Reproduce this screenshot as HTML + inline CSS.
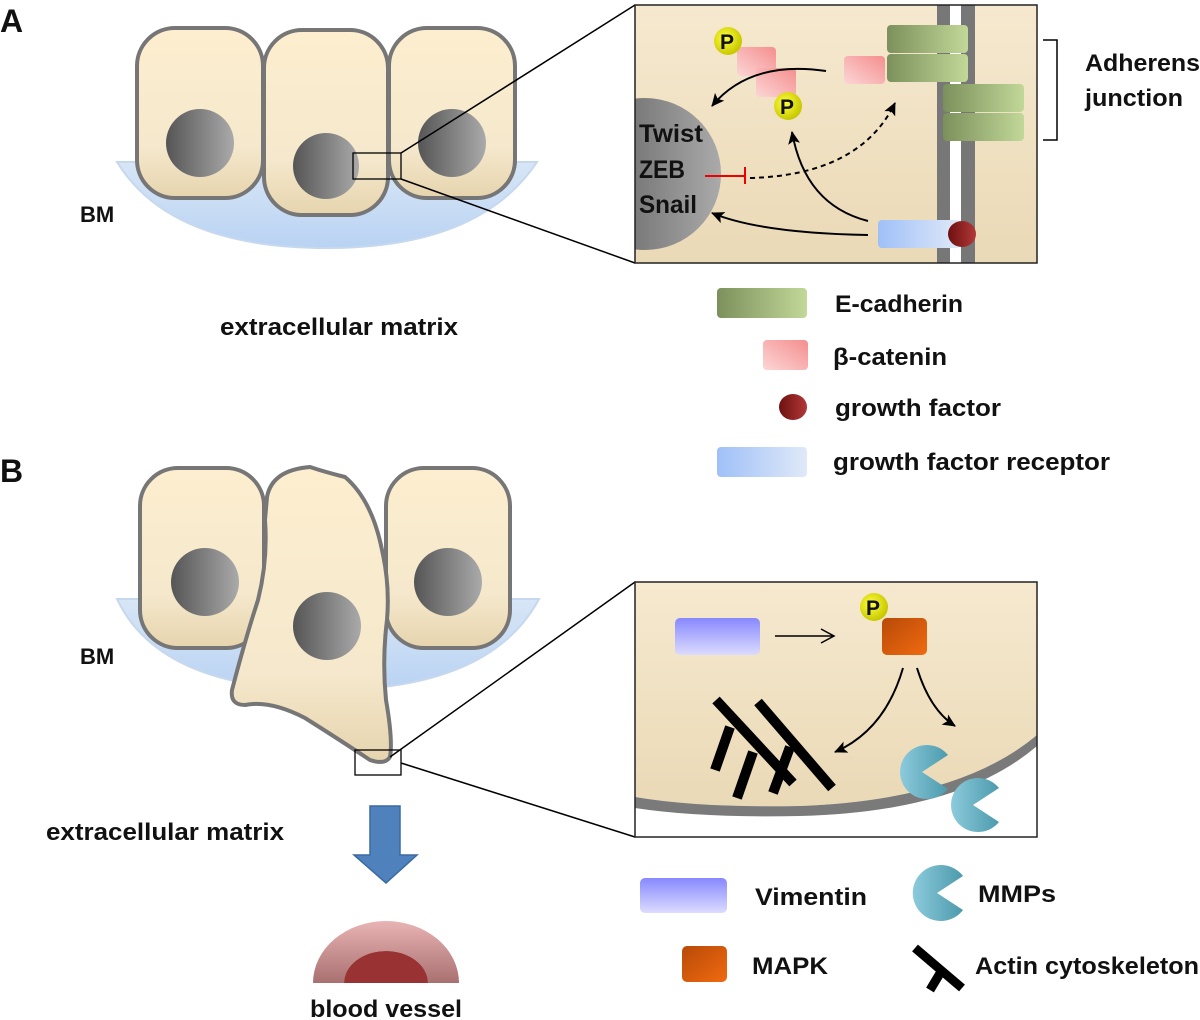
<!DOCTYPE html>
<html><head><meta charset="utf-8"><style>
html,body{margin:0;padding:0;background:#fff;}
svg{display:block;}
text{font-family:"Liberation Sans",sans-serif;font-weight:bold;fill:#111;}
</style></head><body>
<svg width="1200" height="1020" viewBox="0 0 1200 1020" xmlns="http://www.w3.org/2000/svg">
<defs>
<linearGradient id="cell" x1="0" y1="0" x2="0" y2="1"><stop offset="0" stop-color="#fdeecf"/><stop offset="0.7" stop-color="#f5e8cc"/><stop offset="1" stop-color="#e6d4ae"/></linearGradient>
<linearGradient id="nuc" x1="0" y1="0" x2="1" y2="0"><stop offset="0" stop-color="#555"/><stop offset="1" stop-color="#aaa"/></linearGradient>
<linearGradient id="bm" x1="0" y1="0" x2="0" y2="1"><stop offset="0" stop-color="#d8e6f6"/><stop offset="1" stop-color="#b9d3f3"/></linearGradient>
<linearGradient id="box" x1="0" y1="0" x2="0" y2="1"><stop offset="0" stop-color="#f6e9cf"/><stop offset="1" stop-color="#ead9b6"/></linearGradient>
<linearGradient id="grn" x1="0" y1="0" x2="1" y2="0"><stop offset="0" stop-color="#7c905c"/><stop offset="1" stop-color="#c2d898"/></linearGradient>
<linearGradient id="pnk" x1="1" y1="0" x2="0" y2="1"><stop offset="0" stop-color="#f58e8e"/><stop offset="1" stop-color="#fcd6d6"/></linearGradient>
<linearGradient id="rec" x1="0" y1="0" x2="1" y2="0"><stop offset="0" stop-color="#9fc0f8"/><stop offset="1" stop-color="#e0e9f8"/></linearGradient>
<linearGradient id="gf" x1="0" y1="0" x2="1" y2="0"><stop offset="0" stop-color="#6e1010"/><stop offset="1" stop-color="#b23838"/></linearGradient>
<linearGradient id="vim" x1="0" y1="0" x2="0" y2="1"><stop offset="0" stop-color="#8888ff"/><stop offset="1" stop-color="#dcdcff"/></linearGradient>
<linearGradient id="mapk" x1="0" y1="0" x2="1" y2="1"><stop offset="0" stop-color="#b84a08"/><stop offset="1" stop-color="#f06a10"/></linearGradient>
<linearGradient id="mmp" x1="0" y1="0" x2="1" y2="0"><stop offset="0" stop-color="#8ccbdc"/><stop offset="1" stop-color="#4c9aac"/></linearGradient>
<linearGradient id="ves" x1="0" y1="0" x2="0" y2="1"><stop offset="0" stop-color="#e9b4b4"/><stop offset="1" stop-color="#a97070"/></linearGradient>
<radialGradient id="py" cx="0.4" cy="0.4" r="0.6"><stop offset="0" stop-color="#ffff40"/><stop offset="1" stop-color="#c8c800"/></radialGradient>
<marker id="ah2" markerWidth="14" markerHeight="14" refX="12" refY="7" orient="auto" markerUnits="userSpaceOnUse"><path d="M0,1 L13,7 L0,13 L3,7 Z" fill="#000"/></marker>
<clipPath id="ca"><rect x="635" y="5" width="402" height="258"/></clipPath>
<clipPath id="cb"><rect x="635" y="582" width="402" height="255"/></clipPath>
</defs>

<!-- Panel A left -->
<text x="0" y="32" font-size="32">A</text>
<path d="M117,162 L537,162 Q480,248 327,248 Q170,248 117,162 Z" fill="url(#bm)" stroke="#c6d8ee" stroke-width="2"/>
<rect x="137" y="28" width="126" height="170" rx="38" fill="url(#cell)" stroke="#767676" stroke-width="4"/>
<rect x="389" y="28" width="126" height="170" rx="38" fill="url(#cell)" stroke="#767676" stroke-width="4"/>
<rect x="264" y="30" width="124" height="185" rx="38" fill="url(#cell)" stroke="#767676" stroke-width="4"/>
<circle cx="200" cy="143" r="34" fill="url(#nuc)"/>
<circle cx="326" cy="166" r="33" fill="url(#nuc)"/>
<circle cx="452" cy="143" r="34" fill="url(#nuc)"/>
<rect x="353" y="153" width="48" height="26" fill="none" stroke="#000" stroke-width="1.3"/>
<line x1="401" y1="153" x2="635" y2="5" stroke="#000" stroke-width="1.5"/>
<line x1="401" y1="179" x2="635" y2="263" stroke="#000" stroke-width="1.5"/>
<text x="80" y="222" font-size="22">BM</text>
<text x="220" y="335" font-size="24" textLength="238" lengthAdjust="spacingAndGlyphs">extracellular matrix</text>

<!-- Panel A box -->
<g clip-path="url(#ca)">
<rect x="635" y="5" width="402" height="258" fill="url(#box)"/>
<circle cx="645" cy="174" r="76" fill="url(#nuc)"/>
<rect x="937" y="5" width="13" height="258" fill="#777"/>
<rect x="950" y="5" width="11" height="258" fill="#fff"/>
<rect x="961" y="5" width="14" height="258" fill="#777"/>
</g>
<rect x="887" y="25" width="81" height="28" rx="4" fill="url(#grn)"/>
<rect x="887" y="54" width="81" height="28" rx="4" fill="url(#grn)"/>
<rect x="943" y="84" width="81" height="28" rx="4" fill="url(#grn)"/>
<rect x="943" y="113" width="81" height="28" rx="4" fill="url(#grn)"/>
<rect x="844" y="56" width="41" height="28" rx="4" fill="url(#pnk)"/>
<rect x="737" y="47" width="39" height="29" rx="4" fill="url(#pnk)"/>
<rect x="756" y="68" width="40" height="29" rx="4" fill="url(#pnk)"/>
<circle cx="728" cy="41" r="14" fill="url(#py)"/><text x="720" y="49" font-size="21">P</text>
<circle cx="788" cy="106" r="14" fill="url(#py)"/><text x="780" y="114" font-size="21">P</text>
<text x="639" y="142" font-size="25" textLength="64" lengthAdjust="spacingAndGlyphs">Twist</text>
<text x="639" y="178" font-size="25" textLength="46" lengthAdjust="spacingAndGlyphs">ZEB</text>
<text x="639" y="213" font-size="25" textLength="58" lengthAdjust="spacingAndGlyphs">Snail</text>
<path d="M826,71 Q750,60 712,106" fill="none" stroke="#000" stroke-width="2" marker-end="url(#ah2)"/>
<path d="M750,178 Q860,175 895,103" fill="none" stroke="#000" stroke-width="2" stroke-dasharray="5,4" marker-end="url(#ah2)"/>
<line x1="705" y1="176" x2="745" y2="176" stroke="#e00" stroke-width="2"/>
<line x1="745" y1="167" x2="745" y2="184" stroke="#e00" stroke-width="2"/>
<path d="M868,221 Q805,205 792,132" fill="none" stroke="#000" stroke-width="2" marker-end="url(#ah2)"/>
<path d="M868,235 Q760,233 712,213" fill="none" stroke="#000" stroke-width="2" marker-end="url(#ah2)"/>
<rect x="878" y="220" width="82" height="28" rx="4" fill="url(#rec)"/>
<ellipse cx="962" cy="234" rx="14" ry="13" fill="url(#gf)"/>
<rect x="635" y="5" width="402" height="258" fill="none" stroke="#222" stroke-width="1.5"/>
<path d="M1043,40 L1057,40 L1057,140 L1043,140" fill="none" stroke="#000" stroke-width="1.5"/>
<text x="1085" y="71" font-size="24" textLength="115" lengthAdjust="spacingAndGlyphs">Adherens</text>
<text x="1085" y="106" font-size="24" textLength="98" lengthAdjust="spacingAndGlyphs">junction</text>

<!-- Legend A -->
<rect x="717" y="288" width="90" height="30" rx="4" fill="url(#grn)"/>
<text x="835" y="312" font-size="24" textLength="128" lengthAdjust="spacingAndGlyphs">E-cadherin</text>
<rect x="763" y="340" width="45" height="30" rx="4" fill="url(#pnk)"/>
<text x="833" y="365" font-size="24" textLength="114" lengthAdjust="spacingAndGlyphs">β-catenin</text>
<ellipse cx="793" cy="407" rx="14" ry="13" fill="url(#gf)"/>
<text x="835" y="416" font-size="24" textLength="166" lengthAdjust="spacingAndGlyphs">growth factor</text>
<rect x="717" y="447" width="90" height="30" rx="4" fill="url(#rec)"/>
<text x="833" y="470" font-size="24" textLength="277" lengthAdjust="spacingAndGlyphs">growth factor receptor</text>

<!-- Panel B left -->
<text x="0" y="482" font-size="32">B</text>
<path d="M117,599 L539,599 Q490,690 327,690 Q160,690 117,599 Z" fill="url(#bm)" stroke="#c6d8ee" stroke-width="2"/>
<rect x="140" y="468" width="124" height="180" rx="38" fill="url(#cell)" stroke="#767676" stroke-width="4"/>
<rect x="386" y="468" width="124" height="180" rx="38" fill="url(#cell)" stroke="#767676" stroke-width="4"/>
<path d="M267,497 Q272,470 310,467 Q325,472 345,477 Q372,500 382,550 Q390,585 387,620 Q382,660 386,700 Q393,740 390,757 Q385,765 370,760 Q340,740 305,718 Q270,700 245,705 Q230,705 232,690 Q245,640 258,600 Q268,560 265,520 Z" fill="url(#cell)" stroke="#767676" stroke-width="4"/>
<circle cx="205" cy="582" r="34" fill="url(#nuc)"/>
<circle cx="327" cy="626" r="34" fill="url(#nuc)"/>
<circle cx="448" cy="582" r="34" fill="url(#nuc)"/>
<rect x="355" y="750" width="46" height="25" fill="none" stroke="#000" stroke-width="1.3"/>
<line x1="390" y1="757" x2="635" y2="582" stroke="#000" stroke-width="1.5"/>
<line x1="401" y1="763" x2="635" y2="837" stroke="#000" stroke-width="1.5"/>
<text x="80" y="664" font-size="22">BM</text>
<text x="46" y="840" font-size="24" textLength="238" lengthAdjust="spacingAndGlyphs">extracellular matrix</text>
<path d="M370,806 L400,806 L400,855 L417,855 L386,883 L354,855 L370,855 Z" fill="#4f81bd" stroke="#3a6aa0" stroke-width="1.5"/>
<path d="M313,983 A73,62 0 0 1 459,983 L428,983 A42,32 0 0 0 344,983 Z" fill="url(#ves)"/>
<path d="M344,983 A42,32 0 0 1 428,983 Z" fill="#993333"/>
<text x="310" y="1017" font-size="24" textLength="152" lengthAdjust="spacingAndGlyphs">blood vessel</text>

<!-- Panel B box -->
<g clip-path="url(#cb)">
<rect x="635" y="582" width="402" height="255" fill="#fff"/>
<path d="M635,582 L1037,582 L1037,735 Q960,800 800,806 Q700,808 635,797 Z" fill="url(#box)"/>
<path d="M635,797 Q700,808 800,806 Q960,800 1037,735 L1037,746 Q960,812 800,816 Q700,818 635,808 Z" fill="#7a7a7a"/>
</g>
<rect x="675" y="618" width="85" height="37" rx="5" fill="url(#vim)"/>
<line x1="775" y1="636" x2="833" y2="636" stroke="#000" stroke-width="1.5"/>
<path d="M821,629 L834,636 L821,643" fill="none" stroke="#000" stroke-width="1.5"/>
<circle cx="874" cy="607" r="14" fill="url(#py)"/><text x="866" y="615" font-size="21">P</text>
<rect x="882" y="618" width="45" height="37" rx="5" fill="url(#mapk)"/>
<path d="M903,668 Q885,730 835,752" fill="none" stroke="#000" stroke-width="2" marker-end="url(#ah2)"/>
<path d="M917,668 Q930,710 955,726" fill="none" stroke="#000" stroke-width="2" marker-end="url(#ah2)"/>
<g stroke="#000" stroke-width="10">
<line x1="716" y1="700" x2="793" y2="783"/>
<line x1="758" y1="702" x2="832" y2="788"/>
<line x1="730" y1="727" x2="715" y2="770"/>
<line x1="753" y1="752" x2="737" y2="798"/>
<line x1="790" y1="747" x2="773" y2="793"/>
</g>
<path d="M922,772 L948,755 A27,27 0 1 0 948,789 Z" fill="url(#mmp)"/>
<path d="M973,805 L999,788 A27,27 0 1 0 999,822 Z" fill="url(#mmp)"/>
<rect x="635" y="582" width="402" height="255" fill="none" stroke="#222" stroke-width="1.5"/>

<!-- Legend B -->
<rect x="640" y="878" width="87" height="35" rx="5" fill="url(#vim)"/>
<text x="755" y="905" font-size="24" textLength="112" lengthAdjust="spacingAndGlyphs">Vimentin</text>
<rect x="682" y="946" width="45" height="36" rx="5" fill="url(#mapk)"/>
<text x="752" y="974" font-size="24" textLength="76" lengthAdjust="spacingAndGlyphs">MAPK</text>
<path d="M937,893 L963,876 A28,28 0 1 0 963,910 Z" fill="url(#mmp)"/>
<text x="978" y="902" font-size="24" textLength="78" lengthAdjust="spacingAndGlyphs">MMPs</text>
<g stroke="#000" stroke-width="9">
<line x1="915" y1="948" x2="962" y2="988"/>
<line x1="942" y1="970" x2="930" y2="990"/>
</g>
<text x="975" y="974" font-size="24" textLength="224" lengthAdjust="spacingAndGlyphs">Actin cytoskeleton</text>
</svg>
</body></html>
